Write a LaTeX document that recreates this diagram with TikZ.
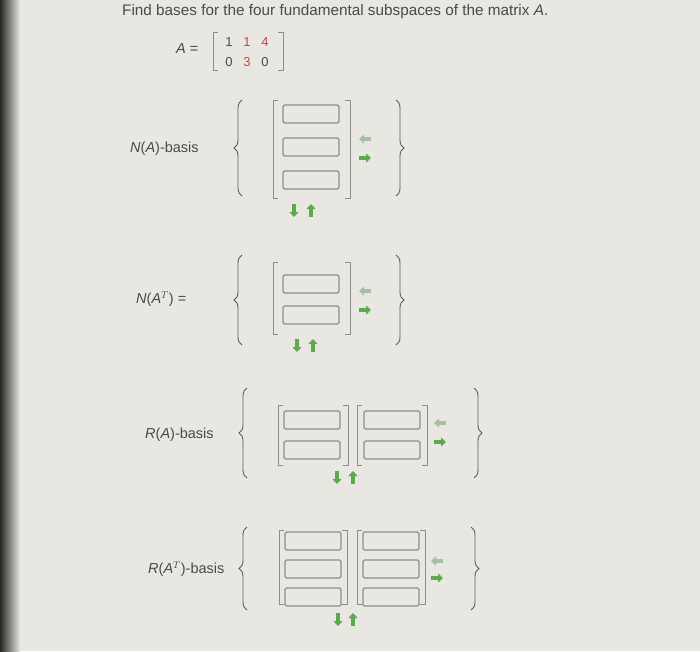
\documentclass[tikz,border=0pt]{standalone}
\usepackage{fontspec}
\setmainfont{Liberation Sans}
\usetikzlibrary{decorations.pathreplacing,arrows.meta}
\definecolor{bg}{HTML}{E8E7E2}
\definecolor{ink}{HTML}{4A4A48}
\definecolor{boxc}{HTML}{8E8E88}
\definecolor{grn}{HTML}{5DAA4E}
\definecolor{lgrn}{HTML}{A9BFA3}
\definecolor{redn}{HTML}{C8473F}
\tikzset{
 x=1pt,y=-1pt,
 txt/.style={font=\fontsize{15.3}{17}\selectfont,text=ink,inner sep=0},
 lbl/.style={font=\fontsize{14.5}{16}\selectfont,text=ink,inner sep=0,anchor=west},
 ent/.style={font=\fontsize{13}{15}\selectfont,inner sep=0},
 inbox/.style={draw=boxc,line width=1.1pt,rounded corners=1.5pt,minimum width=56pt,minimum height=18pt,inner sep=0},
 brk/.style={draw=boxc,line width=0.9pt},
 brace/.style={draw=ink!90,line width=0.9pt,decorate,decoration={brace,amplitude=8pt,aspect=0.5}},
 garr/.style={-{Triangle[length=5pt,width=9pt]},line width=3.5pt,grn},
 larr/.style={-{Triangle[length=5pt,width=9pt]},line width=3.5pt,lgrn},
}
\newcommand{\vbrk}[4]{% x1 x2 y1 y2
 \draw[brk] (#1+5,#3)--(#1,#3)--(#1,#4)--(#1+5,#4);
 \draw[brk] (#2-5,#3)--(#2,#3)--(#2,#4)--(#2-5,#4);}
\begin{document}
\begin{tikzpicture}
\fill[bg] (0,0) rectangle (700,651);
\shade[left color=black!85,right color=bg] (0,0) rectangle (20,651);
\useasboundingbox (0,0) rectangle (700,651);
\node[txt,anchor=west] (title) at (122,12) {Find bases for the four fundamental subspaces of the matrix \textit{A}.};
% matrix
\node[lbl] (aeq) at (176,49) {\textit{A} =};
\vbrk{213}{283}{32}{70}
\node[ent,text=ink] (m11) at (229,42) {1};
\node[ent,text=redn] (m12) at (247,42) {1};
\node[ent,text=redn] (m13) at (265,42) {4};
\node[ent,text=ink] (m21) at (229,62) {0};
\node[ent,text=redn] (m22) at (247,62) {3};
\node[ent,text=ink] (m23) at (265,62) {0};
% block 1
\node[lbl] (l1) at (130,149) {\textit{N}(\textit{A})-basis};
\draw[brace] (242,196)--(242,100);
\draw[brace] (396,100)--(396,196);
\vbrk{273}{350}{100}{198}
\node[inbox] (b11) at (311,114) {};
\node[inbox] (b12) at (311,147) {};
\node[inbox] (b13) at (311,180) {};
\draw[larr] (371,139)--(359,139);
\draw[garr] (359,158)--(371,158);
\draw[garr] (294,204)--(294,217);
\draw[garr] (311,217)--(311,204);
% block 2
\node[lbl] (l2) at (136,299) {\textit{N}(\textit{A}$^{T}$) =};
\draw[brace] (242,345)--(242,255);
\draw[brace] (396,255)--(396,345);
\vbrk{273}{350}{262}{334}
\node[inbox] (b21) at (311,284) {};
\node[inbox] (b22) at (311,315) {};
\draw[larr] (371,291)--(359,291);
\draw[garr] (359,310)--(371,310);
\draw[garr] (297,339)--(297,352);
\draw[garr] (313,352)--(313,339);
% block 3
\node[lbl] (l3) at (145,435) {\textit{R}(\textit{A})-basis};
\draw[brace] (247,478)--(247,388);
\draw[brace] (474,388)--(474,478);
\vbrk{278}{348}{405}{465}
\vbrk{357}{427}{405}{465}
\node[inbox] (b31) at (312,420) {};
\node[inbox] (b32) at (312,450) {};
\node[inbox] (b33) at (392,420) {};
\node[inbox] (b34) at (392,450) {};
\draw[larr] (446,423)--(434,423);
\draw[garr] (434,442)--(446,442);
\draw[garr] (337,471)--(337,484);
\draw[garr] (353,484)--(353,471);
% block 4
\node[lbl] (l4) at (148,569) {\textit{R}(\textit{A}$^{T}$)-basis};
\draw[brace] (247,610)--(247,527);
\draw[brace] (471,527)--(471,610);
\vbrk{279}{347}{530}{604}
\vbrk{357}{425}{530}{604}
\node[inbox] (b41) at (313,541) {};
\node[inbox] (b42) at (313,569) {};
\node[inbox] (b43) at (313,597) {};
\node[inbox] (b44) at (391,541) {};
\node[inbox] (b45) at (391,569) {};
\node[inbox] (b46) at (391,597) {};
\draw[larr] (443,561)--(431,561);
\draw[garr] (431,578)--(443,578);
\draw[garr] (338,613)--(338,626);
\draw[garr] (353,626)--(353,613);
\end{tikzpicture}
\end{document}
